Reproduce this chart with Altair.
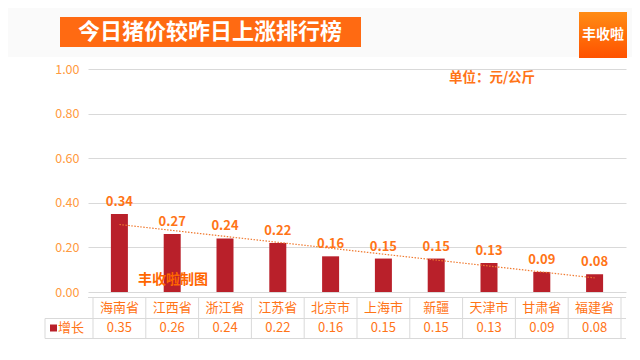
import altair as alt
import pandas as pd

# ---- data ----
provinces = ["海南省", "江西省", "浙江省", "江苏省", "北京市", "上海市", "新疆", "天津市", "甘肃省", "福建省"]
growth = [0.35, 0.26, 0.24, 0.22, 0.16, 0.15, 0.15, 0.13, 0.09, 0.08]
label_texts = ["0.34", "0.27", "0.24", "0.22", "0.16", "0.15", "0.15", "0.13", "0.09", "0.08"]
y_ticks = [0.0, 0.2, 0.4, 0.6, 0.8, 1.0]

title_text = "今日猪价较昨日上涨排行榜"
badge_text = "丰收啦"
unit_text = "单位：元/公斤"
watermark_text = "丰收啦制图"
series_name = "增长"

df = pd.DataFrame({
    "prov": provinces,
    "val": growth,
    "lab": label_texts,
    "idx": list(range(1, len(provinces) + 1)),
})
one = pd.DataFrame({"a": [0]})

# ---- style ----
W, H = 538, 223
FONT = "Noto Sans CJK SC"
ORANGE = "#ff7417"
AXIS_ORANGE = "#ff9a40"
BAR = "#b9202a"
GRID = "#d9d9d9"

xs = alt.Scale(domain=[0.5, len(provinces) + 0.5], nice=False, zero=False)
ys = alt.Scale(domain=[0, 1], nice=False)
X = alt.X("idx:Q", scale=xs, axis=None)

base = alt.Chart(df)
deco = alt.Chart(one)

# decorations
band = deco.mark_rect(color="#fafafa").encode(
    x=alt.value(-80), x2=alt.value(W + 6), y=alt.value(-61), y2=alt.value(-12))
title_box = deco.mark_rect(color="#ff6a12").encode(
    x=alt.value(-28), x2=alt.value(273), y=alt.value(-52), y2=alt.value(-22))
title = deco.mark_text(font=FONT, fontSize=22, fontWeight="bold", color="white",
                       baseline="middle", align="center").encode(
    x=alt.value(122), y=alt.value(-37), text=alt.value(title_text))
badge = deco.mark_rect(color=alt.LinearGradient(
    gradient="linear", x1=0, x2=0, y1=0, y2=1,
    stops=[alt.GradientStop(color="#ff8c14", offset=0),
           alt.GradientStop(color="#ff5200", offset=1)])).encode(
    x=alt.value(491), x2=alt.value(539), y=alt.value(-57), y2=alt.value(-11))
badge_t = deco.mark_text(font=FONT, fontSize=14, fontWeight="bold", color="white",
                         baseline="middle", align="center").encode(
    x=alt.value(515), y=alt.value(-34), text=alt.value(badge_text))
unit = deco.mark_text(font=FONT, fontSize=13.5, fontWeight="bold", color=ORANGE,
                      baseline="middle", align="center").encode(
    x=alt.value(404), y=alt.value(9), text=alt.value(unit_text))

bars = base.mark_bar(size=17, color=BAR).encode(
    x=X,
    y=alt.Y("val:Q", scale=ys, axis=alt.Axis(
        values=y_ticks, format=".2f", title=None, domain=False, ticks=False,
        labelColor=AXIS_ORANGE, labelFont=FONT, labelFontSize=12.5, labelPadding=9,
        gridColor=GRID, gridWidth=1)),
)

trend = base.transform_regression("idx", "val", extent=[1, len(provinces)]).mark_line(
    color="#f07a30", strokeDash=[1.5, 1.5], strokeWidth=1.2).encode(
    x=X, y=alt.Y("val:Q", scale=ys))

labels = base.mark_text(font=FONT, fontSize=13, fontWeight="bold", color=ORANGE,
                        dy=-12, baseline="middle", align="center").encode(
    x=X, y=alt.Y("val:Q", scale=ys), text="lab:N")

watermark = deco.mark_text(font=FONT, fontSize=14, fontWeight="bold", color="#ff6600",
                           baseline="middle", align="center").encode(
    x=alt.value(85), y=alt.value(211), text=alt.value(watermark_text))

# table
cat_text = base.mark_text(font=FONT, fontSize=13, color=ORANGE, baseline="middle",
                          align="center").encode(x=X, y=alt.value(238.5), text="prov:N")
val_text = base.mark_text(font=FONT, fontSize=13, color=ORANGE, baseline="middle",
                          align="center").encode(
    x=X, y=alt.value(259), text=alt.Text("val:Q", format=".2f"))

vlines = base.transform_calculate(b="datum.idx - 0.5").mark_rule(color=GRID).encode(
    x=alt.X("b:Q", scale=xs, axis=None), y=alt.value(228), y2=alt.value(269.5))
vlast = base.transform_filter(f"datum.idx == {len(provinces)}").transform_calculate(
    b="datum.idx + 0.5").mark_rule(color=GRID).encode(
    x=alt.X("b:Q", scale=xs, axis=None), y=alt.value(228), y2=alt.value(269.5))
h_top = deco.mark_rule(color=GRID).encode(x=alt.value(0), x2=alt.value(W), y=alt.value(228.5))
h_mid = deco.mark_rule(color=GRID).encode(x=alt.value(-43), x2=alt.value(W), y=alt.value(249.5))
h_bot = deco.mark_rule(color=GRID).encode(x=alt.value(-43), x2=alt.value(W), y=alt.value(269.5))
v_leg = deco.mark_rule(color=GRID).encode(x=alt.value(-43), y=alt.value(249.5), y2=alt.value(269.5))
leg_sq = deco.mark_rect(color=BAR).encode(
    x=alt.value(-38), x2=alt.value(-31), y=alt.value(255.5), y2=alt.value(262.5))
leg_t = deco.mark_text(font=FONT, fontSize=13, color=ORANGE, baseline="middle",
                       align="left").encode(
    x=alt.value(-30), y=alt.value(259), text=alt.value(series_name))

chart = alt.layer(
    band, title_box, title, badge, badge_t, unit,
    bars, trend, labels, watermark,
    h_top, h_mid, h_bot, vlines, vlast, v_leg,
    cat_text, val_text, leg_sq, leg_t,
).properties(
    width=W, height=H,
    autosize=alt.AutoSizeParams(type="none"),
    padding={"left": 80, "top": 61, "right": 6, "bottom": 60},
    background="white",
).configure_view(stroke=None)

chart.save("out.html", embed_options={"renderer": "svg", "actions": False})
